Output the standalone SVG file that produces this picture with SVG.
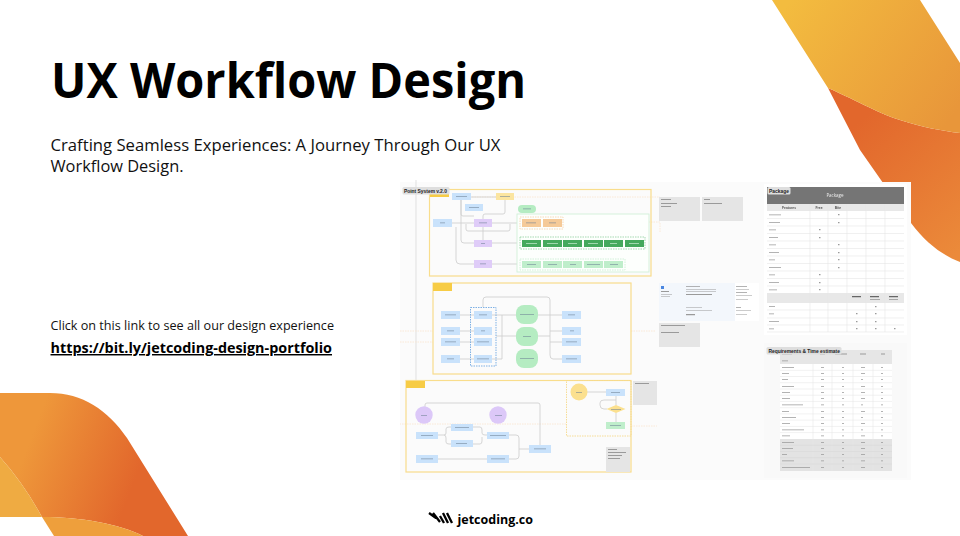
<svg xmlns="http://www.w3.org/2000/svg" width="960" height="536" viewBox="0 0 960 536">
<style>
text{font-family:"Open Sans","Noto Sans","Liberation Sans",sans-serif}
.b{fill:#c9e2fb}.p{fill:#dfccf8}.y{fill:#fbe5a0}.o{fill:#f5ca98}.g{fill:#45a95d}.lg{fill:#bfeecb}.pill{fill:#b5ecc2}
.frame{fill:none;stroke:#f9dd8c;stroke-width:1.200}
.tag{fill:#f7cc45}
.note{fill:#e5e5e5}
.dash{fill:none;stroke-width:.9;stroke-dasharray:1.5 1}
.wire{fill:none;stroke:#cdcdcd;stroke-width:.8}
.lbl{fill:#dedede}
.lt{font-size:4.900px;font-weight:700;fill:#222;font-family:"Liberation Sans",sans-serif}
.th{font-size:3.400px;font-weight:700;fill:#555;text-anchor:middle;font-family:"Liberation Sans",sans-serif}
.ink{fill:#9a9a9a}
.nodeink{fill:#6f8296}
</style>
<defs>
<linearGradient id="yel" gradientUnits="userSpaceOnUse" x1="790" y1="0" x2="950" y2="120"><stop offset="0" stop-color="#f3bc3f"/><stop offset="1" stop-color="#e8963a"/></linearGradient>
<linearGradient id="org" gradientUnits="userSpaceOnUse" x1="850" y1="130" x2="960" y2="250"><stop offset="0" stop-color="#e2672c"/><stop offset="1" stop-color="#eb8a3a"/></linearGradient>
<linearGradient id="org2" gradientUnits="userSpaceOnUse" x1="30" y1="440" x2="135" y2="480"><stop offset="0" stop-color="#ee973a"/><stop offset="1" stop-color="#e2672c"/></linearGradient>
<filter id="soft" x="0" y="0" width="1" height="1"><feGaussianBlur stdDeviation="0.7"/></filter>
</defs>
<rect width="960" height="536" fill="#fff"/>

<g id="decor-top-right">
<path fill="url(#org)" d="M828,88 C860,102 880,114 900,120 C922,127 942,131 960,133 V262 C942,255 926,243 911,223 L860,150 Z"/>
<path fill="url(#yel)" d="M772,0 H920 L960,63 V133 C942,131 922,127 900,120 C880,114 860,102 828,88 Z"/>
</g>
<g id="decor-bottom-left">
<path fill="url(#org2)" d="M0,393 H50 C82,393 108,410 127,438 L188,536 H143 C120,524 80,517 42,517 C30,495 16,475 0,457 Z"/>
<path fill="#efab42" d="M0,457 C16,475 30,495 42,517 H0 Z"/>
<path fill="#ee9f3c" d="M42,517 C80,517 120,524 143,536 H54 Z"/>
</g>

<g id="heading">
<text x="51" y="98" font-size="49" font-weight="700" fill="#000" textLength="475" lengthAdjust="spacingAndGlyphs">UX Workflow Design</text>
<text x="50.500" y="151" font-size="17" fill="#111" textLength="450" lengthAdjust="spacingAndGlyphs">Crafting Seamless Experiences: A Journey Through Our UX</text>
<text x="50.500" y="172" font-size="17" fill="#111" textLength="133" lengthAdjust="spacingAndGlyphs">Workflow Design.</text>
</g>
<g id="link">
<text x="50.500" y="330" font-size="12.600" fill="#111" textLength="283.500" lengthAdjust="spacingAndGlyphs">Click on this link to see all our design experience</text>
<text x="50.500" y="353" font-size="14.500" font-weight="700" fill="#000" text-decoration="underline" textLength="281.500" lengthAdjust="spacingAndGlyphs">https://bit.ly/jetcoding-design-portfolio</text>
</g>
<g id="brand">
<path fill="none" stroke="#000" stroke-width="2.300" d="M429,513 L436,518 M433,513 L440,522 M440,516 L444,523 M443,513 L448,523 M447,513 L452,523"/>
<text x="457.500" y="524" font-size="13" font-weight="700" fill="#000" textLength="75.500" lengthAdjust="spacingAndGlyphs">jetcoding.co</text>
</g>

<g id="screenshot">
<rect x="400" y="182" width="511" height="298" fill="#fbfbfb"/>
<g filter="url(#soft)">
<g id="connectors">
<path fill="none" stroke="#d9d9d9" stroke-width=".8" d="M416,180 V380"/>
<path class="dash" stroke="#f9e6d3" d="M452,197 H660 M631,222 H660 V233 M631,331 H655 M400,331 H433 M400,342 H433 M566,424 H400 M631,426 H657"/>
<path class="wire" d="M471,197 H496 M505,200 V212 Q505,214 503,214 H485 Q483,214 483,216 V219 M461,200 V214 Q461,216 463,216 H474 M452,223 H474 M492,223 H520 M466,224 V229 Q466,231 468,231 H508 Q510,231 510,229 V224 M483,227 V240 M461,200 V240 Q461,243 464,243 H474 M492,243 H520 M456,227 V260 Q456,264 460,264 H474 M492,264 H520"/>
<path class="wire" d="M460,315 H474 M460,331 H474 M460,342 H474 M460,359 H474 M492,315 H516 M502,315 V359 H492 M496,336 H516 M538,315 H562 M538,336 H550 M550,315 V355 Q550,359 553,359 H562 M550,331 H562 M550,342 H562 M483,307 V300 Q483,297 486,297 H547 Q550,297 550,300 V315"/>
<path class="wire" d="M425,407 V405 Q425,403 427,403 H538 Q540,403 540,405 V445 M438,435 H444 Q446,435 446,433 V429 Q446,427 449,427 H451 M444,435 Q446,435 446,438 V442 Q446,444 449,444 H451 M473,427 H480 Q482,427 482,430 V433 Q482,435 485,435 H487 M473,444 H480 Q482,444 482,441 V437 M509,435 H516 Q519,435 519,438 V456 Q519,459 516,459 H509 M438,459 H487 M519,449 H529 M587,392 H606 M616,396 V405 M607,409 H604 Q600,409 600,405 V403 Q600,400 604,400 H616 M616,413 V422"/>
</g>

<g id="frame-point">
<rect class="frame" x="429.500" y="189.500" width="221.500" height="86.500"/>
<rect class="tag" x="430" y="190" width="19" height="7"/>
<rect x="517" y="214" width="132" height="58" fill="#fdfffd" stroke="#d0efd8" stroke-width=".9"/>
</g>
<g id="n-a1"><rect class="b" x="452" y="193" width="19" height="7"/></g>
<g id="n-a2"><rect class="y" x="496" y="193" width="18" height="7"/></g>
<g id="n-a3"><rect class="b" x="465" y="204" width="18" height="7"/></g>
<g id="n-a4"><rect class="pill" x="518" y="205" width="18" height="8" rx="4"/></g>
<g id="n-a5"><rect class="b" x="433" y="219" width="19" height="8"/></g>
<g id="n-a6"><rect class="p" x="474" y="219" width="18" height="8"/></g>
<g id="n-a7"><rect class="p" x="474" y="240" width="18" height="7"/></g>
<g id="n-a8"><rect class="p" x="474" y="260" width="18" height="8"/></g>
<g id="group-orange">
<rect class="dash" stroke="#f6d6b2" x="520" y="217" width="43" height="12"/>
<rect class="o" x="522" y="219" width="19" height="8"/><rect class="o" x="543" y="219" width="19" height="8"/>
</g>
<g id="group-darkgreen">
<rect class="dash" stroke="#9ad5a8" x="520" y="237" width="125" height="12"/>
<rect class="g" x="522" y="240" width="19" height="7"/><rect class="g" x="543" y="240" width="19" height="7"/><rect class="g" x="563" y="240" width="19" height="7"/><rect class="g" x="584" y="240" width="19" height="7"/><rect class="g" x="604" y="240" width="19" height="7"/><rect class="g" x="625" y="240" width="19" height="7"/>
<path fill="#bfe6c9" d="M526,243h11v.8h-11zM547,243h11v.8h-11zM568,243h9v.8h-9zM588,243h10v.8h-10zM610,243h7v.8h-7zM629,243h10v.8h-10z"/>
</g>
<g id="group-lightgreen">
<rect class="dash" stroke="#cdefd6" x="520" y="259" width="105" height="11"/>
<rect class="lg" x="522" y="261" width="19" height="7"/><rect class="lg" x="543" y="261" width="19" height="7"/><rect class="lg" x="563" y="261" width="19" height="7"/><rect class="lg" x="584" y="261" width="19" height="7"/><rect class="lg" x="604" y="261" width="19" height="7"/>
</g>

<g id="frame-mid">
<rect class="frame" x="433" y="283" width="198" height="91"/>
<rect class="tag" x="433" y="283" width="19" height="8"/>
<rect class="dash" stroke="#6fa8e2" x="470.500" y="307.500" width="25.500" height="58.500"/>
</g>
<g id="n-b-left"><rect class="b" x="441" y="311" width="19" height="8"/><rect class="b" x="441" y="327" width="19" height="8"/><rect class="b" x="441" y="338" width="19" height="8"/><rect class="b" x="441" y="355" width="19" height="8"/></g>
<g id="n-b-mid"><rect class="b" x="474" y="311" width="18" height="8"/><rect class="b" x="474" y="327" width="18" height="8"/><rect class="b" x="474" y="338" width="18" height="8"/><rect class="b" x="474" y="355" width="18" height="8"/></g>
<g id="n-b-pills"><rect class="pill" x="516" y="305" width="22" height="19" rx="8"/><rect class="pill" x="516" y="327" width="22" height="19" rx="8"/><rect class="pill" x="516" y="349" width="22" height="19" rx="8"/></g>
<g id="n-b-right"><rect class="b" x="562" y="311" width="19" height="8"/><rect class="b" x="562" y="327" width="19" height="8"/><rect class="b" x="562" y="338" width="19" height="8"/><rect class="b" x="562" y="355" width="19" height="8"/></g>

<g id="frame-bottom">
<rect class="frame" x="406" y="380.500" width="225" height="91.500"/>
<rect class="tag" x="406" y="381" width="19" height="7"/>
<rect class="dash" stroke="#f5d98c" x="566.500" y="380.500" width="64.500" height="55.500"/>
</g>
<g id="n-c-circles"><circle cx="424" cy="415" r="8.700" fill="#dcc8f8"/><circle cx="498" cy="415" r="8.700" fill="#dcc8f8"/><circle cx="579" cy="392" r="8.500" fill="#fbe08f"/></g>
<g id="n-c-blue"><rect class="b" x="416" y="432" width="22" height="7"/><rect class="b" x="451" y="424" width="22" height="7"/><rect class="b" x="451" y="440" width="22" height="7"/><rect class="b" x="487" y="432" width="22" height="7"/><rect class="b" x="416" y="455" width="22" height="8"/><rect class="b" x="487" y="455" width="22" height="8"/><rect class="b" x="529" y="445" width="22" height="8"/><rect class="b" x="606" y="389" width="19" height="7"/></g>
<g id="n-c-decision"><path d="M616,405 L625.500,409 L616,413 L606.500,409 Z" fill="#fbe08f"/></g>
<g id="n-c-end"><rect class="lg" x="606" y="422" width="19" height="7"/></g>

<g id="node-labels">
<path class="nodeink" opacity=".75" d="M456,196h11v.8h-11zM500,196h10v.8h-10zM469,207h10v.8h-10zM523,208.500h8v.8h-8zM440,222.500h5v.8h-5zM479,222.500h8v.8h-8zM481,243h4v.8h-4zM480,263.500h6v.8h-6zM526,222.500h10v.8h-10zM549,222.500h7v.8h-7zM527,264h9v.8h-9zM548,264h9v.8h-9zM570,264h6v.8h-6zM587,264h13v.8h-13zM610,264h8v.8h-8zM445,314.500h11v.8h-11zM479,314.500h8v.8h-8zM447,330.500h7v.8h-7zM481,330.500h4v.8h-4zM445,341.500h11v.8h-11zM477,341.500h12v.8h-12zM447,358.500h7v.8h-7zM477,358.500h12v.8h-12zM520,314h14v.8h-14zM523,336h8v.8h-8zM520,358h14v.8h-14zM568,314.500h7v.8h-7zM570,330.500h4v.8h-4zM566,341.500h11v.8h-11zM566,358.500h11v.8h-11zM421,415h6v.8h-6zM495,415h7v.8h-7zM576,392h6v.8h-6zM421,435h12v.8h-12zM455,427h14v.8h-14zM456,443h11v.8h-11zM490,435h16v.8h-16zM421,458.500h12v.8h-12zM491,458.500h14v.8h-14zM534,448.500h12v.8h-12zM611,392h9v.8h-9zM611,409h10v.8h-10zM610,425h11v.8h-11z"/>
</g>

<g id="notes">
<rect class="note" x="633" y="381" width="24" height="24"/>
<rect class="note" x="606" y="447" width="24" height="25"/>
<rect class="note" x="659" y="197" width="41" height="24"/>
<rect class="note" x="702" y="197" width="41" height="24"/>
<rect class="note" x="659" y="323" width="41" height="24"/>
<rect x="659" y="283" width="76" height="38" fill="#f3f7fc"/>
<rect x="735" y="283" width="24" height="38" fill="#fff"/>
<rect x="661" y="286" width="3" height="3" fill="#4a86e0"/>
<path class="ink" d="M661,199h10v1h-10zM661,203h16v1h-16zM661,206h10v1h-10zM704,199h6v1h-6zM704,203h18v1h-18zM661,325h24v1h-24zM661,332h18v1h-18zM635,383h14v1h-14zM608,449h9v1h-9zM608,452h18v1h-18zM608,455h14v1h-14zM608,458h12v1h-12zM661,291h8v1h-8zM661,294h11v.6h-11zM661,296h9v.6h-9zM686,286h14v.7h-14zM686,289h30v.5h-30zM686,291h30v.5h-30zM686,294h26v1h-26zM686,307h16v.6h-16zM686,310h26v.5h-26zM686,314h9v1.200h-9zM736,286h11v.7h-11zM736,289h13v.5h-13zM736,292h11v.7h-11zM736,295h16v.5h-16zM736,299h12v.5h-12zM736,307h5v.7h-5zM736,310h15v.5h-15zM736,314h11v.5h-11z"/>
</g>

<g id="table-package">
<rect x="764" y="184" width="143" height="151" fill="#fff"/>
<rect x="767" y="187" width="137" height="17" fill="#757575"/>
<rect x="767" y="204" width="137" height="7" fill="#e8e8e8"/>
<rect x="767" y="293" width="137" height="10" fill="#e8e8e8"/>
<path stroke="#e6e6e6" stroke-width=".6" fill="none" d="M767,218.500H904M767,226H904M767,233.500H904M767,241H904M767,248.500H904M767,256H904M767,263.500H904M767,271H904M767,278.500H904M767,286H904M767,310H904M767,318H904M767,325H904M767,332H904M810,204V332M828,204V332M847,204V332M866,204V332M885,204V332"/>
<text x="835" y="197" font-size="4.500" fill="#eee" text-anchor="middle">Package</text>
<text class="th" x="789" y="209">Features</text><text class="th" x="819" y="209">Free</text><text class="th" x="838" y="209">Bite</text>
<path class="ink" d="M769,214.500h12v.8h-12zM769,222h11v.8h-11zM769,229.500h7v.8h-7zM769,237h9v.8h-9zM769,244.500h7v.8h-7zM769,252h10v.8h-10zM769,259.500h6v.8h-6zM769,267h12v.8h-12zM769,274.500h6v.8h-6zM769,282h10v.8h-10zM769,289.500h8v.8h-8zM769,306h6v.8h-6zM769,313.500h5v.8h-5zM769,321h10v.8h-10zM769,328.500h5v.8h-5z"/>
<path class="ink" d="M838,214h1.500v1.200h-1.500zM838,222h1.500v1.200h-1.500zM819,229h1.500v1.200h-1.500zM819,237h1.500v1.200h-1.500zM838,244h1.500v1.200h-1.500zM838,252h1.500v1.200h-1.500zM838,259h1.500v1.200h-1.500zM838,267h1.500v1.200h-1.500zM819,274h1.500v1.200h-1.500zM819,282h1.500v1.200h-1.500zM819,289h1.500v1.200h-1.500zM875,306h1.500v1.200h-1.500zM856,313h1.500v1.200h-1.500zM875,313h1.500v1.200h-1.500zM856,321h1.500v1.200h-1.500zM875,321h1.500v1.200h-1.500zM856,328h1.500v1.200h-1.500zM875,328h1.500v1.200h-1.500zM894,328h1.500v1.200h-1.500z"/>
<path fill="#666" d="M852,296h9v1.200h-9zM870,296h9v1.200h-9zM889,296h9v1.200h-9zM870,299h10v.6h-10zM889,299h9v.6h-9z"/>
</g>

<g id="table-estimate">
<rect x="764" y="343" width="143" height="135" fill="#f9f9f9"/>
<rect x="780" y="350" width="112" height="121" fill="#fff"/>
<rect x="780" y="350" width="112" height="14" fill="#e6e6e6"/>
<rect x="780" y="439" width="112" height="32" fill="#e3e3e3"/>
<path stroke="#e8e8e8" stroke-width=".6" fill="none" d="M780,370.300H892M780,376.500H892M780,382.700H892M780,389H892M780,395.200H892M780,401.400H892M780,407.700H892M780,413.900H892M780,420.100H892M780,426.400H892M780,432.600H892M813,350V471M832,350V471M853,350V471M873,350V471"/>
<path stroke="#d6d6d6" stroke-width=".5" fill="none" d="M780,445.200H892M780,451.500H892M780,457.700H892M780,464H892"/>
<path class="ink" d="M782,353.500h10v1h-10zM820,353.500h5v1h-5zM835,353.500h12v1h-12zM860,353.500h6v1h-6zM881,353.500h4v1h-4zM782,360.500h6v.8h-6z"/>
<path class="ink" d="M782,367h12v.7h-12zM782,373h7v.7h-7zM782,379h6v.7h-6zM782,386h12v.7h-12zM782,392h8v.7h-8zM782,398h8v.7h-8zM782,404.500h21v.7h-21zM782,411h7v.7h-7zM782,417h14v.7h-14zM782,423h8v.7h-8zM782,429.500h22v.7h-22zM782,435.500h8v.7h-8zM782,442h12v.7h-12zM782,448h11v.7h-11zM782,454h5v.7h-5zM782,460.500h12v.7h-12zM782,467h28v.7h-28z"/>
<path class="ink" d="M821,367h3v.7h-3M821,373h3v.7h-3M821,379h3v.7h-3M821,386h3v.7h-3M821,392h3v.7h-3M821,398h3v.7h-3M821,404.500h3v.7h-3M821,411h3v.7h-3M821,417h3v.7h-3M821,423h3v.7h-3M821,429.500h3v.7h-3M821,435.500h3v.7h-3M821,442h3v.7h-3M821,448h3v.7h-3M821,454h3v.7h-3M821,460.500h3v.7h-3M821,467h3v.7h-3M842,367h2v.7h-2M842,373h2v.7h-2M842,379h2v.7h-2M842,386h2v.7h-2M842,392h2v.7h-2M842,398h2v.7h-2M842,404.500h2v.7h-2M842,411h2v.7h-2M842,417h2v.7h-2M842,423h2v.7h-2M842,429.500h2v.7h-2M842,435.500h2v.7h-2M842,442h2v.7h-2M842,448h2v.7h-2M842,454h2v.7h-2M842,460.500h2v.7h-2M842,467h2v.7h-2M861,367h4v.7h-4M861,373h4v.7h-4M861,379h2v.7h-2M861,386h4v.7h-4M861,392h4v.7h-4M861,398h4v.7h-4M861,404.500h2v.7h-2M861,411h4v.7h-4M861,417h2v.7h-2M861,423h4v.7h-4M861,429.500h2v.7h-2M861,435.500h4v.7h-4M861,442h4v.7h-4M861,448h4v.7h-4M861,454h4v.7h-4M861,460.500h4v.7h-4M861,467h4v.7h-4M881,367h2v.7h-2M881,373h2v.7h-2M881,379h2v.7h-2M881,386h2v.7h-2M881,392h2v.7h-2M881,398h2v.7h-2M881,404.500h2v.7h-2M881,411h2v.7h-2M881,417h2v.7h-2M881,423h2v.7h-2M881,429.500h2v.7h-2M881,435.500h2v.7h-2M881,442h2v.7h-2M881,448h2v.7h-2M881,454h2v.7h-2M881,460.500h2v.7h-2M881,467h2v.7h-2"/>
</g>
</g>

<g id="section-labels">
<rect class="lbl" x="402.500" y="187" width="47" height="7.500" rx="1.500"/>
<text class="lt" x="404" y="192.600">Point System v.2.0</text>
<rect class="lbl" x="767.500" y="187" width="23" height="7.500" rx="1.500"/>
<text class="lt" x="769" y="192.600">Package</text>
<rect class="lbl" x="766.500" y="347" width="75" height="7.500" rx="1.500"/>
<text class="lt" x="768.500" y="352.600">Requirements &amp; Time estimate</text>
</g>
</g>
</svg>
